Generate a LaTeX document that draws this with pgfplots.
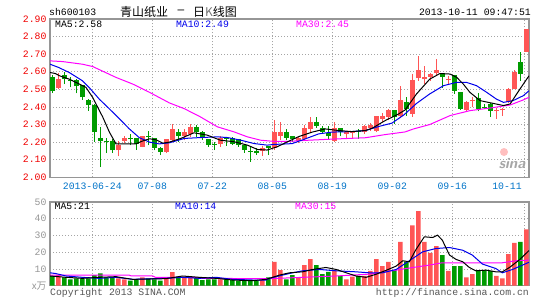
\documentclass[border=0pt]{standalone}
\usepackage{fontspec}
\setmainfont{Liberation Sans}
\setmonofont{Liberation Mono}
\newfontfamily\cjk{Noto Sans CJK SC}
\usepackage{pgfplots}
\usepackage{pgfplotstable}
\pgfplotsset{compat=1.18}
\definecolor{cred}{RGB}{255,85,85}
\definecolor{cgreen}{RGB}{0,155,0}
\definecolor{tickred}{RGB}{240,0,0}
\definecolor{dateblue}{RGB}{0,115,200}
\definecolor{mablue}{RGB}{0,0,235}
\definecolor{mamag}{RGB}{255,0,255}
\definecolor{framegray}{RGB}{150,150,150}
\definecolor{gridgray}{RGB}{165,165,165}
\definecolor{volgray}{RGB}{150,150,150}
\definecolor{txtgray}{RGB}{85,85,85}
\newcommand\fs{\fontsize{9.8}{11}\selectfont}

% red candles: k, body low (open), body high (close), wick low, wick high, volume
\pgfplotstableread{
k bl bh wl wh v
1 2.506 2.557 2.500 2.594 6.3
11 2.153 2.181 2.119 2.205 4.4
12 2.204 2.224 2.195 2.234 3.8
15 2.175 2.232 2.170 2.236 5.0
19 2.143 2.216 2.138 2.219 4.4
20 2.213 2.274 2.202 2.302 8.1
22 2.236 2.256 2.210 2.277 5.0
23 2.247 2.285 2.230 2.302 5.0
28 2.187 2.226 2.174 2.234 3.8
35 2.149 2.168 2.123 2.177 3.4
37 2.164 2.258 2.155 2.325 14.3
38 2.236 2.258 2.211 2.315 9.3
41 2.206 2.222 2.195 2.230 5.0
42 2.219 2.281 2.209 2.300 12.3
43 2.272 2.313 2.257 2.345 15.9
47 2.209 2.281 2.200 2.313 9.3
49 2.247 2.260 2.225 2.264 3.8
50 2.253 2.262 2.225 2.265 5.4
52 2.257 2.294 2.247 2.300 5.8
53 2.279 2.300 2.266 2.307 8.9
54 2.266 2.347 2.257 2.351 15.9
55 2.332 2.351 2.313 2.364 11.7
56 2.345 2.385 2.323 2.389 14.3
58 2.350 2.442 2.335 2.521 26.2
60 2.360 2.556 2.345 2.590 36.1
61 2.564 2.611 2.549 2.690 44.6
62 2.557 2.573 2.530 2.634 26.2
63 2.572 2.587 2.550 2.594 19.6
64 2.592 2.611 2.577 2.672 23.6
66 2.553 2.560 2.530 2.577 8.9
69 2.383 2.426 2.375 2.435 5.0
70 2.432 2.440 2.400 2.458 6.9
74 2.377 2.383 2.332 2.394 5.8
75 2.380 2.389 2.351 2.394 4.4
76 2.426 2.502 2.420 2.505 18.8
77 2.502 2.596 2.500 2.610 25.6
79 2.715 2.842 2.712 2.845 33.7
}\redc

% green candles: k, body low (close), body high (open), wick low, wick high, volume
\pgfplotstableread{
k bl bh wl wh v
0 2.492 2.570 2.479 2.580 5.8
2 2.557 2.583 2.530 2.598 5.0
3 2.550 2.556 2.511 2.572 3.8
4 2.517 2.555 2.477 2.557 4.4
5 2.455 2.523 2.440 2.525 4.4
6 2.413 2.442 2.379 2.445 4.4
7 2.257 2.413 2.200 2.415 6.3
8 2.206 2.221 2.058 2.285 7.3
9 2.198 2.204 2.138 2.222 5.0
10 2.153 2.204 2.140 2.219 5.0
13 2.216 2.222 2.181 2.247 3.0
14 2.190 2.224 2.158 2.226 3.8
16 2.228 2.234 2.181 2.262 4.4
17 2.168 2.221 2.153 2.222 3.8
18 2.145 2.168 2.126 2.170 3.0
21 2.236 2.256 2.202 2.272 5.4
24 2.256 2.285 2.230 2.300 5.0
25 2.229 2.256 2.211 2.262 3.4
26 2.185 2.218 2.174 2.218 3.8
27 2.183 2.189 2.155 2.200 3.8
29 2.219 2.225 2.180 2.230 3.8
30 2.192 2.226 2.183 2.230 3.4
31 2.183 2.215 2.174 2.215 3.0
32 2.155 2.183 2.140 2.183 3.0
33 2.145 2.151 2.089 2.174 3.0
34 2.136 2.147 2.126 2.164 3.0
36 2.168 2.177 2.126 2.177 5.0
39 2.224 2.258 2.210 2.275 3.8
40 2.219 2.234 2.200 2.234 6.3
44 2.294 2.313 2.281 2.345 12.3
45 2.257 2.281 2.247 2.294 6.9
46 2.232 2.251 2.219 2.294 8.3
48 2.257 2.281 2.232 2.281 5.8
51 2.255 2.262 2.219 2.272 5.8
57 2.342 2.385 2.304 2.385 9.3
59 2.390 2.430 2.351 2.455 14.3
65 2.572 2.592 2.510 2.594 18.3
67 2.492 2.583 2.474 2.583 11.7
68 2.389 2.483 2.385 2.485 11.7
71 2.389 2.451 2.375 2.477 9.3
72 2.396 2.402 2.390 2.417 9.3
73 2.379 2.417 2.342 2.420 8.9
78 2.587 2.653 2.549 2.715 26.2
}\greenc

\newcommand\candles[2]{%
  \addplot[forget plot, draw=none, mark=none,
    error bars/.cd, y dir=plus, y explicit, error mark=none,
    error bar style={draw=#2, line width=1pt}]
    table[x=k, y=wl, y error expr=\thisrow{wh}-\thisrow{wl}] {#1};
  \addplot[forget plot, draw=none, mark=none,
    error bars/.cd, y dir=plus, y explicit, error mark=none,
    error bar style={draw=#2, line width=4.5pt}]
    table[x=k, y=bl, y error expr=\thisrow{bh}-\thisrow{bl}] {#1};
}

\pgfplotsset{
  base/.style={
    scale only axis, width=479pt, xmin=-0.4, xmax=79.45,
    anchor=south west,
    axis line style={draw=framegray, line width=1.2pt},
    major tick length=0pt,
    xtick={6.65,16.65,26.65,36.65,46.65,56.65,66.65,78.65},
    grid=major,
    major grid style={draw=gridgray, line width=0.8pt, dash pattern=on 1pt off 2pt},
    ticklabel style={font=\fs\ttfamily},
  }
}

\begin{document}
\begin{tikzpicture}
\useasboundingbox (0pt,0pt) rectangle (545pt,-300pt);

\begin{axis}[base, at={(50pt,-177.3pt)}, height=158.3pt,
  ymin=2, ymax=2.9,
  ytick={2.0,2.1,2.2,2.3,2.4,2.5,2.6,2.7,2.8,2.9},
  yticklabels={2.00,2.10,2.20,2.30,2.40,2.50,2.60,2.70,2.80,2.90},
  yticklabel style={text=tickred},
  xticklabels={2013-06-24,07-08,07-22,08-05,08-19,09-02,09-16,{\makebox[0pt][r]{10-11\hspace{2.5pt}}}},
  xticklabel style={text=dateblue, yshift=-2.4pt}]
\candles{\redc}{cred}
\candles{\greenc}{cgreen}
% MA30
\addplot[mamag, line width=1pt] coordinates {(-0.4,2.662)(1.7,2.658)(5,2.643)(6.7,2.63)(10.6,2.568)(13.4,2.53)(16.2,2.483)(19.5,2.423)(22,2.39)(24.7,2.343)(27.5,2.287)(30.3,2.258)(32.5,2.23)(34.7,2.211)(37,2.204)(39.2,2.204)(42.2,2.210)(46.6,2.217)(52.2,2.225)(55.5,2.243)(58.8,2.258)(60.2,2.275)(62.9,2.30)(66.3,2.351)(69.6,2.379)(73,2.394)(76.3,2.411)(78.5,2.44)(79.45,2.455)};
% MA10
\addplot[mablue, line width=1pt] coordinates {(-0.4,2.643)(1,2.625)(2.8,2.596)(5,2.549)(6.2,2.508)(7.8,2.445)(9.5,2.389)(11.2,2.332)(12.8,2.276)(14.5,2.225)(16.2,2.20)(17.8,2.19)(19.5,2.196)(22,2.221)(24.7,2.226)(27.5,2.23)(29.2,2.226)(31.4,2.211)(33.6,2.192)(35.8,2.183)(37,2.187)(39.2,2.19)(40,2.192)(42.2,2.219)(44.4,2.247)(46.6,2.257)(49.9,2.26)(52.2,2.266)(54.4,2.289)(56.6,2.308)(58.6,2.355)(60.7,2.42)(62.9,2.474)(65.2,2.521)(67.4,2.54)(69,2.54)(70.7,2.521)(72.4,2.483)(74,2.445)(75.2,2.426)(76.8,2.436)(78.5,2.464)(79.45,2.492)};
% MA5
\addplot[black, line width=1pt] coordinates {(-0.4,2.596)(0.5,2.59)(1.2,2.577)(2.8,2.558)(4.5,2.53)(5.6,2.511)(6.7,2.455)(8.4,2.342)(9.5,2.257)(10.6,2.19)(12.3,2.19)(13.9,2.19)(15,2.206)(16.2,2.219)(17.3,2.213)(18.4,2.194)(19.5,2.2)(21.4,2.221)(23.6,2.253)(25.8,2.24)(28,2.211)(30.3,2.202)(32.5,2.183)(34.2,2.158)(35.8,2.155)(37.5,2.174)(39.2,2.202)(41.1,2.232)(43.3,2.257)(45.5,2.275)(47.7,2.266)(49.9,2.26)(52.2,2.266)(53.3,2.279)(55.5,2.323)(57.7,2.36)(58.8,2.383)(60.7,2.474)(62.9,2.558)(64.6,2.59)(66.3,2.587)(67.4,2.568)(68.5,2.53)(69.6,2.483)(71.3,2.436)(73.5,2.42)(75.2,2.408)(76.3,2.417)(77.4,2.474)(78.5,2.53)(79.45,2.577)};
\end{axis}

\begin{axis}[base, at={(50pt,-285.7pt)}, height=83.7pt,
  ymin=0, ymax=50,
  ytick={0,10,20,30,40,50},
  yticklabels={{\cjk x万},10,20,30,40,50},
  yticklabel style={text=volgray},
  xticklabels={{},{},{},{},{},{},{},{}}]
\addplot[ybar, bar width=4.5pt, bar shift=0pt, fill=cred, draw=none, forget plot] table[x=k, y=v] {\redc};
\addplot[ybar, bar width=4.5pt, bar shift=0pt, fill=cgreen, draw=none, forget plot] table[x=k, y=v] {\greenc};
% MA30
\addplot[mamag, line width=1pt] coordinates {(-0.4,6.3)(12.8,6.3)(13.2,5.8)(16.7,5.8)(17.2,5.0)(24,5.0)(24.5,4.4)(36.2,4.2)(41.7,5.0)(47.3,5.8)(52.8,6.9)(57.3,9.3)(60.1,10.9)(62.8,12.3)(65,13.7)(69.5,13.7)(75,13.7)(77.3,14.9)(79.45,15.3)};
% MA10
\addplot[mablue, line width=1pt] coordinates {(-0.4,7.7)(0.5,7.3)(2.3,5.8)(5,5.0)(7.8,4.4)(10.6,5.0)(13.4,3.8)(18.9,4.4)(21.7,5.0)(24.5,4.4)(27.3,5.0)(30,3.8)(33.4,3.4)(35.6,3.4)(36.2,4.4)(39.5,7.3)(41.7,8.9)(44.5,9.7)(47.3,8.9)(50.6,8.3)(52.8,7.7)(55,7.7)(57.3,9.7)(59.5,14.9)(61.7,20.2)(63.9,22.2)(66.2,22.8)(68.4,21.2)(70,18.3)(71.7,12.9)(73.9,10.3)(75,7.7)(76.7,9.7)(79.45,14)};
% MA5
\addplot[black, line width=1pt] coordinates {(-0.4,5.8)(2.3,5.0)(5,4.4)(7.8,5.0)(10.6,5.4)(12.3,4.4)(13.4,3.8)(18.9,4.2)(21.7,5.8)(24.5,5.0)(27.3,4.4)(30,3.4)(33.4,3.0)(35.6,3.8)(36.7,5.0)(37.8,6.3)(39.5,7.7)(41.7,8.3)(43.4,9.7)(45.6,10.9)(47.3,9.7)(49,7.7)(50.6,5.8)(52.3,5.0)(54,6.9)(55.7,9.3)(57.3,11.7)(58.4,14.9)(59.5,14.3)(60.6,21.6)(62,29.2)(63.4,28.8)(64.2,30.2)(65,27.2)(66.2,18.3)(67.3,15.7)(68.4,14.3)(69.5,10.9)(70.6,8.9)(72.3,9.3)(73.9,8.3)(75,8.3)(76.2,10.9)(77.8,15.3)(79.45,21)};
\end{axis}

% header
\node[anchor=west, inner sep=0pt, font=\fs\ttfamily] at (49pt,-11.8pt) {sh600103};
\node[anchor=west, inner sep=0pt, font=\cjk\fontsize{12}{12}\selectfont] at (120pt,-11.8pt) {青山纸业};
\node[inner sep=0pt, font=\fontsize{12}{12}\selectfont] at (181pt,-11.8pt) {–};
\node[anchor=west, inner sep=0pt, font=\cjk\fontsize{12}{12}\selectfont] at (193pt,-11.8pt) {日\textcolor{black!55}{K}线图};
\node[anchor=east, inner sep=0pt, font=\fs\ttfamily] at (531pt,-11.8pt) {2013-10-11 09:47:51};
% MA legends
\node[anchor=west, inner sep=0pt, font=\fs\ttfamily] at (55pt,-24.2pt) {MA5:2.58};
\node[anchor=west, inner sep=0pt, font=\fs\ttfamily, text=mablue] at (175.8pt,-24.2pt) {MA10:2.49};
\node[anchor=west, inner sep=0pt, font=\fs\ttfamily, text=mamag] at (296pt,-24.2pt) {MA30:2.45};
\node[anchor=west, inner sep=0pt, font=\fs\ttfamily] at (54.5pt,-206.5pt) {MA5:21};
\node[anchor=west, inner sep=0pt, font=\fs\ttfamily, text=mablue] at (175pt,-206.5pt) {MA10:14};
\node[anchor=west, inner sep=0pt, font=\fs\ttfamily, text=mamag] at (295pt,-206.5pt) {MA30:15};
% watermark
\fill[red!25] (504pt,-152pt) circle (4pt);
\node[text=black!35, inner sep=0pt, font=\sffamily\bfseries\itshape\fontsize{15}{15}\selectfont] at (512pt,-164pt) {sina};
% footer
\node[anchor=west, inner sep=0pt, font=\fs\ttfamily, text=txtgray] at (50pt,-292.5pt) {Copyright 2013 SINA.COM};
\node[anchor=east, inner sep=0pt, font=\fs\ttfamily, text=txtgray] at (529pt,-292.5pt) {http://finance.sina.com.cn};
\end{tikzpicture}
\end{document}
